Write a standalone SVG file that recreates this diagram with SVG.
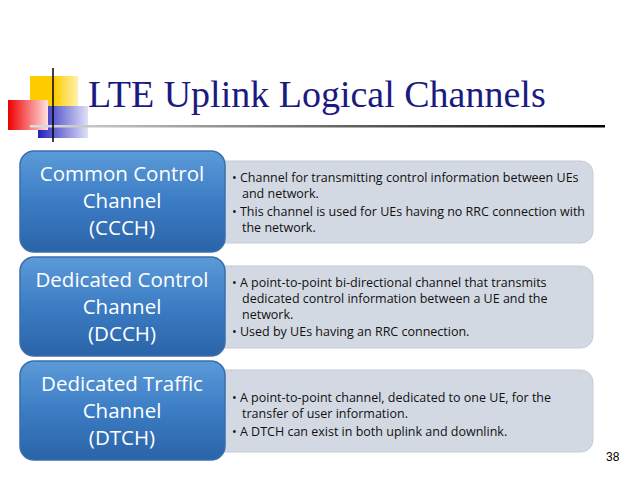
<svg xmlns="http://www.w3.org/2000/svg" width="638" height="478" viewBox="0 0 638 478">
<defs>
<linearGradient id="bl" x1="0" y1="0" x2="0" y2="1"><stop offset="0" stop-color="#5b9bd8"/><stop offset="0.5" stop-color="#3c7cc4"/><stop offset="1" stop-color="#2a64a8"/></linearGradient>
<linearGradient id="red" x1="0" y1="0" x2="1" y2="0"><stop offset="0" stop-color="#ee0000"/><stop offset="1" stop-color="#ffe0e0"/></linearGradient>
<linearGradient id="yel" x1="0" y1="0" x2="1" y2="0"><stop offset="0.5" stop-color="#ffcc00"/><stop offset="1" stop-color="#fff0b0"/></linearGradient>
<linearGradient id="blu" x1="0" y1="0" x2="1" y2="0"><stop offset="0" stop-color="#2222bb"/><stop offset="1" stop-color="#e0e0f8"/></linearGradient>
<linearGradient id="ln" x1="0" y1="0" x2="1" y2="0"><stop offset="0" stop-color="#dddddd"/><stop offset="1" stop-color="#000"/></linearGradient>
<style>
.bt{font-family:"Open Sans","DejaVu Sans",sans-serif;font-size:20.5px;fill:#fff;text-anchor:middle}
.gt{font-family:"Open Sans","DejaVu Sans",sans-serif;font-size:12.5px;fill:#111}
.gb{fill:#d3d9e3;stroke:#c5ccd8}
.bb{fill:url(#bl);stroke:#3a6fae;stroke-width:1.5}
</style>
</defs>
<rect width="638" height="478" fill="#fff"/>
<g id="deco">
<rect x="30" y="76" width="48" height="54" fill="url(#yel)"/>
<rect x="38" y="106" width="50" height="32" fill="url(#blu)"/>
<rect x="8" y="100" width="40" height="30" fill="url(#red)"/>
<rect x="30" y="125" width="575" height="2.5" fill="url(#ln)"/>
<line x1="53" y1="68" x2="53" y2="142" stroke="#000" stroke-width="1.5"/>
</g>
<text x="88" y="107" font-family="'Liberation Serif',serif" font-size="38" fill="#1a1a80">LTE Uplink Logical Channels</text>
<g id="n1">
<rect class="gb" x="205" y="161" width="388" height="82" rx="12"/>
<rect class="bb" x="20" y="151" width="205" height="101" rx="14"/>
<text class="bt" x="122" y="181">Common Control</text><text class="bt" x="122" y="208">Channel</text><text class="bt" x="122" y="235">(CCCH)</text>
<text class="gt" x="232" y="182">•  Channel for transmitting control information between UEs</text>
<text class="gt" x="242" y="198">and network.</text>
<text class="gt" x="232" y="216">•  This channel is used for UEs having no RRC connection with</text>
<text class="gt" x="242" y="232">the network.</text>
</g>
<g id="n2">
<rect class="gb" x="205" y="266" width="388" height="82" rx="12"/>
<rect class="bb" x="20" y="257" width="205" height="99" rx="14"/>
<text class="bt" x="122" y="287">Dedicated Control</text><text class="bt" x="122" y="314">Channel</text><text class="bt" x="122" y="341">(DCCH)</text>
<text class="gt" x="232" y="287">•  A point-to-point bi-directional channel that transmits</text>
<text class="gt" x="242" y="303">dedicated control information between a UE and the</text>
<text class="gt" x="242" y="319">network.</text>
<text class="gt" x="232" y="336">•  Used by UEs having an RRC connection.</text>
</g>
<g id="n3">
<rect class="gb" x="205" y="370" width="388" height="82" rx="12"/>
<rect class="bb" x="20" y="361" width="205" height="99" rx="14"/>
<text class="bt" x="122" y="391">Dedicated Traffic</text><text class="bt" x="122" y="418">Channel</text><text class="bt" x="122" y="445">(DTCH)</text>
<text class="gt" x="232" y="402">•  A point-to-point channel, dedicated to one UE, for the</text>
<text class="gt" x="242" y="418">transfer of user information.</text>
<text class="gt" x="232" y="436">•  A DTCH can exist in both uplink and downlink.</text>
</g>
<g id="connectors"/>
<text x="606" y="461" font-family="'Liberation Sans',sans-serif" font-size="12" fill="#000">38</text>
</svg>
